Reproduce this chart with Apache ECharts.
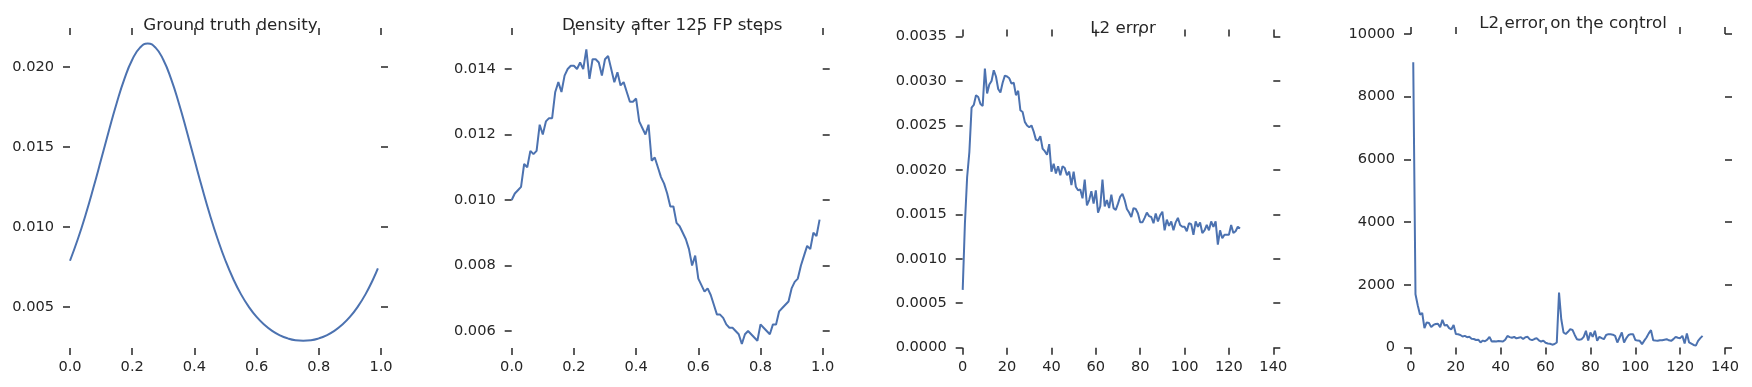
<!DOCTYPE html>
<html>
<head>
<meta charset="utf-8">
<script src="https://cdn.jsdelivr.net/npm/echarts@6/dist/echarts.min.js"></script>
<style>
  html, body { margin: 0; padding: 0; background: #fff; }
  #main { width: 1752px; height: 387px; }
</style>
</head>
<body>
<div id="main"></div>
<script>
// panel titles
var titles = ['Ground truth density', 'Density after 125 FP steps', 'L2 error', 'L2 error on the control'];

// ground truth density (x in [0,1))
var truthX = [0, 0.025, 0.05, 0.075, 0.1, 0.125, 0.15, 0.175, 0.2, 0.225, 0.25, 0.275, 0.3, 0.325, 0.35, 0.375, 0.4, 0.425, 0.45, 0.475,
  0.5, 0.525, 0.55, 0.575, 0.6, 0.625, 0.65, 0.675, 0.7, 0.725, 0.75, 0.775, 0.8, 0.825, 0.85, 0.875, 0.9, 0.925, 0.95, 0.975, 0.99];
var truthY = [0.0079, 0.00924, 0.01076, 0.01244, 0.01422, 0.01602, 0.01774, 0.01926, 0.02045, 0.02121, 0.02147, 0.02121, 0.02045, 0.01926,
  0.01774, 0.01602, 0.01422, 0.01244, 0.01076, 0.00924, 0.0079, 0.00676, 0.0058, 0.00502, 0.00439, 0.0039, 0.00352, 0.00324, 0.00305,
  0.00294, 0.00291, 0.00294, 0.00305, 0.00324, 0.00352, 0.0039, 0.00439, 0.00502, 0.0058, 0.00676, 0.00742];

// density after 125 FP steps, one value every 0.01
var fpY = [0.0100, 0.0102, 0.0103, 0.0104, 0.0111, 0.0110, 0.0115, 0.0114, 0.0115, 0.0123,
  0.0120, 0.0124, 0.0125, 0.0125, 0.0133, 0.0136, 0.0133, 0.0138, 0.0140, 0.0141,
  0.0141, 0.0140, 0.0142, 0.0140, 0.0146, 0.0137, 0.0143, 0.0143, 0.0142, 0.0138,
  0.0143, 0.0144, 0.0140, 0.0136, 0.0139, 0.0135, 0.0136, 0.0133, 0.0130, 0.0130,
  0.0131, 0.0124, 0.0122, 0.0120, 0.0123, 0.0112, 0.0113, 0.0110, 0.0107, 0.0105,
  0.0102, 0.0098, 0.0098, 0.0093, 0.0092, 0.0090, 0.0088, 0.0085, 0.0080, 0.0083,
  0.0076, 0.0074, 0.0072, 0.0073, 0.0071, 0.0068, 0.0065, 0.0065, 0.0064, 0.0062,
  0.0061, 0.0061, 0.0060, 0.0059, 0.0056, 0.0059, 0.0060, 0.0059, 0.0058, 0.0057,
  0.0062, 0.0061, 0.0060, 0.0059, 0.0062, 0.0062, 0.0066, 0.0067, 0.0068, 0.0069,
  0.0073, 0.0075, 0.0076, 0.0080, 0.0083, 0.0086, 0.0085, 0.0090, 0.0089, 0.0094];

// L2 error per step, steps 0..125
var l2Err = [0.00065, 0.00140, 0.00192, 0.00220, 0.00270, 0.00273, 0.00284, 0.00282, 0.00274, 0.00272,
  0.00314, 0.00286, 0.00296, 0.00300, 0.00312, 0.00305, 0.00291, 0.00287, 0.00298, 0.00306,
  0.00305, 0.00303, 0.00297, 0.00298, 0.00284, 0.00289, 0.00267, 0.00265, 0.00254, 0.00250,
  0.00248, 0.00250, 0.00243, 0.00234, 0.00233, 0.00238, 0.00224, 0.00221, 0.00217, 0.00229,
  0.00198, 0.00207, 0.00196, 0.00204, 0.00194, 0.00204, 0.00202, 0.00194, 0.00198, 0.00183,
  0.00198, 0.00181, 0.00177, 0.00178, 0.00168, 0.00189, 0.00160, 0.00166, 0.00176, 0.00162,
  0.00177, 0.00152, 0.00159, 0.00189, 0.00159, 0.00166, 0.00157, 0.00172, 0.00157, 0.00155,
  0.00162, 0.00170, 0.00173, 0.00166, 0.00156, 0.00152, 0.00147, 0.00157, 0.00156, 0.00151,
  0.00141, 0.00141, 0.00146, 0.00152, 0.00148, 0.00147, 0.00140, 0.00151, 0.00142, 0.00149,
  0.00153, 0.00132, 0.00144, 0.00137, 0.00142, 0.00132, 0.00141, 0.00146, 0.00138, 0.00136,
  0.00136, 0.00131, 0.00140, 0.00139, 0.00127, 0.00142, 0.00136, 0.00141, 0.00129, 0.00132,
  0.00138, 0.00132, 0.00142, 0.00136, 0.00142, 0.00116, 0.00132, 0.00123, 0.00127, 0.00127,
  0.00127, 0.00138, 0.00129, 0.00131, 0.00136, 0.00134];

// L2 error on the control, steps 1..130
var controlErr = [9100, 1700, 1350, 1050, 1100, 620, 800, 780, 650, 720,
  750, 760, 650, 880, 700, 720, 620, 580, 720, 430,
  420, 400, 350, 370, 330, 340, 280, 270, 240, 250,
  160, 220, 200, 250, 340, 190, 200, 190, 210, 200,
  190, 250, 370, 330, 310, 340, 290, 310, 330, 270,
  330, 340, 260, 234, 270, 300, 230, 190, 220, 150,
  130, 120, 90, 110, 160, 1750, 900, 480, 430, 500,
  585, 560, 400, 266, 250, 260, 340, 532, 220, 480,
  340, 532, 213, 340, 300, 266, 400, 425, 420, 410,
  372, 160, 320, 480, 160, 300, 400, 425, 425, 240,
  220, 213, 106, 220, 319, 450, 553, 234, 220, 213,
  230, 234, 250, 266, 230, 213, 266, 340, 310, 298,
  372, 128, 447, 160, 120, 80, 60, 213, 300, 372];

var yTicks1 = [0.005, 0.010, 0.015, 0.020];
var yTicks2 = [0.006, 0.008, 0.010, 0.012, 0.014];

var ink = '#262626';
var lineColor = '#4C72B0';
var font = 'DejaVu Sans';

var grids = [
  {left: 70, top: 35, width: 311, height: 313},
  {left: 511.7, top: 35, width: 311, height: 313},
  {left: 962.7, top: 36.5, width: 310.6, height: 311.2},
  {left: 1411, top: 34, width: 314, height: 313.5}
];

function tick() {
  return {show: true, length: 7, lineStyle: {color: ink, width: 1.5}};
}

function xAx(gi, pos, min, max, interval, fmt) {
  return {
    type: 'value', gridIndex: gi, position: pos, min: min, max: max, interval: interval,
    axisLine: {show: false, onZero: false}, splitLine: {show: false}, axisTick: tick(),
    axisLabel: {show: pos === 'bottom', color: ink, fontSize: 14.6, fontFamily: font, margin: 12, formatter: fmt}
  };
}

function yAx(gi, pos, min, max, interval, fmt, custom) {
  var ax = {
    type: 'value', gridIndex: gi, position: pos, min: min, max: max,
    axisLine: {show: false, onZero: false}, splitLine: {show: false}, axisTick: tick(),
    axisLabel: {show: pos === 'left', color: ink, fontSize: 14.6, fontFamily: font, margin: 16, formatter: fmt}
  };
  if (custom) {
    ax.axisTick.customValues = custom;
    ax.axisLabel.customValues = custom;
  } else {
    ax.interval = interval;
  }
  return ax;
}

var f1 = function (v) { return v.toFixed(1); };
var f3 = function (v) { return v.toFixed(3); };
var f4 = function (v) { return v.toFixed(4); };
var f0 = function (v) { return String(Math.round(v)); };

var xAxes = [], yAxes = [];
[0, 1].forEach(function (gi) {
  xAxes.push(xAx(gi, 'bottom', 0, 1, 0.2, f1), xAx(gi, 'top', 0, 1, 0.2, f1));
});
[2, 3].forEach(function (gi) {
  xAxes.push(xAx(gi, 'bottom', 0, 140, 20, f0), xAx(gi, 'top', 0, 140, 20, f0));
});
yAxes.push(yAx(0, 'left', 0.00245, 0.0220, null, f3, yTicks1), yAx(0, 'right', 0.00245, 0.0220, null, f3, yTicks1));
yAxes.push(yAx(1, 'left', 0.00548, 0.01504, null, f3, yTicks2), yAx(1, 'right', 0.00548, 0.01504, null, f3, yTicks2));
yAxes.push(yAx(2, 'left', 0, 0.0035, 0.0005, f4), yAx(2, 'right', 0, 0.0035, 0.0005, f4));
yAxes.push(yAx(3, 'left', 0, 10000, 2000, f0), yAx(3, 'right', 0, 10000, 2000, f0));

function line(gi, data, smooth) {
  return {
    type: 'line', xAxisIndex: gi * 2, yAxisIndex: gi * 2, data: data, smooth: smooth,
    showSymbol: false, lineStyle: {color: lineColor, width: 2}, itemStyle: {color: lineColor}
  };
}

var titleTops = [12, 12, 15, 10];

var myChart = echarts.init(document.getElementById('main'));
myChart.setOption({
  animation: false,
  backgroundColor: '#fff',
  title: titles.map(function (t, i) {
    return {
      text: t, left: grids[i].left + grids[i].width / 2, top: titleTops[i], textAlign: 'center',
      textStyle: {color: ink, fontSize: 16.7, fontWeight: 'normal', fontFamily: font}
    };
  }),
  grid: grids,
  xAxis: xAxes,
  yAxis: yAxes,
  series: [
    line(0, truthX.map(function (x, i) { return [x, truthY[i]]; }), true),
    line(1, fpY.map(function (v, i) { return [i / 100, v]; }), false),
    line(2, l2Err.map(function (v, i) { return [i, v]; }), false),
    line(3, controlErr.map(function (v, i) { return [i + 1, v]; }), false)
  ]
});
</script>
</body>
</html>
